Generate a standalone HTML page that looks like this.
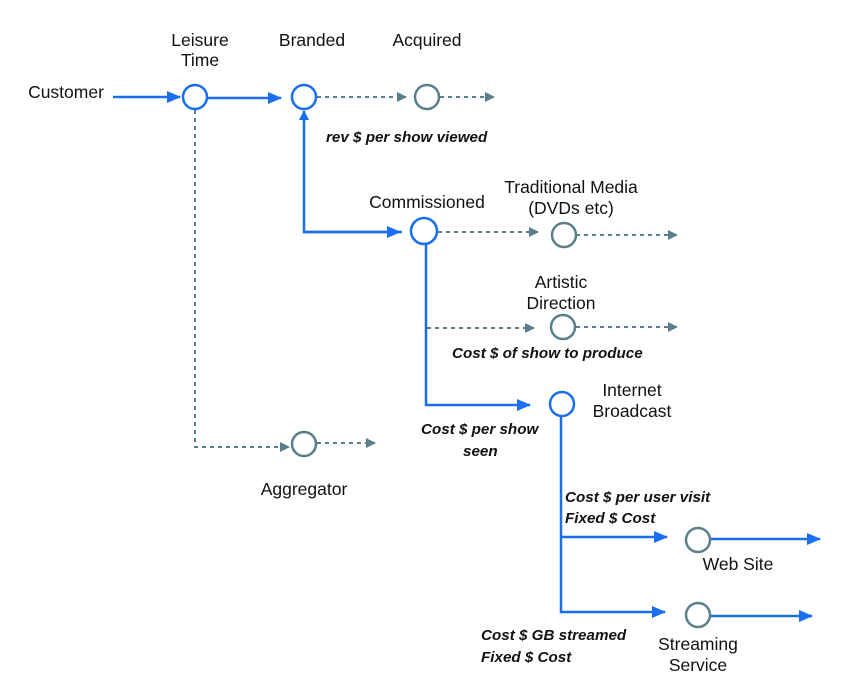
<!DOCTYPE html>
<html><head><meta charset="utf-8"><style>
html,body{margin:0;padding:0;background:#fff;}
svg{display:block;}
text{font-family:"Liberation Sans",sans-serif;font-size:17.5px;fill:#111;}
.i{font-style:italic;font-weight:bold;font-size:15.2px;}
</style></head><body>
<svg width="843" height="695" viewBox="0 0 843 695" xmlns="http://www.w3.org/2000/svg">
<defs>
<marker id="b" markerWidth="10" markerHeight="10" refX="9" refY="5" orient="auto" markerUnits="userSpaceOnUse"><path d="M0,0 L10,5 L0,10 z" fill="#1a6ff0"/></marker>
<marker id="b2" markerWidth="14" markerHeight="12" refX="13" refY="6" orient="auto" markerUnits="userSpaceOnUse"><path d="M0,0 L14,6 L0,12 z" fill="#1a6ff0"/></marker>
<marker id="g" markerWidth="10" markerHeight="10" refX="9" refY="5" orient="auto" markerUnits="userSpaceOnUse"><path d="M0,0 L10,5 L0,10 z" fill="#5a7f8a"/></marker>
</defs>
<g fill="none" stroke-width="2.5">
<g stroke="#1a6ff0">
<line x1="113" y1="97" x2="180" y2="97" marker-end="url(#b2)"/>
<line x1="207" y1="98" x2="281" y2="98" marker-end="url(#b2)"/>
<polyline points="402,232 304,232 304,111" marker-end="url(#b)"/>
<line x1="304" y1="232" x2="400" y2="232" marker-end="url(#b2)"/>
<polyline points="426,243 426,405 530,405" marker-end="url(#b2)"/>
<polyline points="561,416 561,612 665,612" marker-end="url(#b2)"/>
<line x1="561" y1="537" x2="667" y2="537" marker-end="url(#b2)"/>
<line x1="710" y1="539" x2="820" y2="539" marker-end="url(#b2)"/>
<line x1="710" y1="616" x2="812" y2="616" marker-end="url(#b2)"/>
</g>
<g stroke="#5a7f8a" stroke-width="2" stroke-dasharray="4,4">
<line x1="317" y1="97" x2="406" y2="97" marker-end="url(#g)"/>
<line x1="440" y1="97" x2="494" y2="97" marker-end="url(#g)"/>
<polyline points="195,110 195,447 289,447" marker-end="url(#g)"/>
<line x1="317" y1="443" x2="375" y2="443" marker-end="url(#g)"/>
<line x1="438" y1="232" x2="538" y2="232" marker-end="url(#g)"/>
<line x1="576" y1="235" x2="677" y2="235" marker-end="url(#g)"/>
<line x1="427" y1="328" x2="534" y2="328" marker-end="url(#g)"/>
<line x1="576" y1="327" x2="677" y2="327" marker-end="url(#g)"/>
</g>
<g fill="#fff">
<circle cx="195" cy="97" r="12" stroke="#1a6ff0"/>
<circle cx="304" cy="97" r="12" stroke="#1a6ff0"/>
<circle cx="427" cy="97" r="12" stroke="#5a7f8a"/>
<circle cx="424" cy="231" r="13" stroke="#1a6ff0"/>
<circle cx="564" cy="235" r="12" stroke="#5a7f8a"/>
<circle cx="563" cy="327" r="12" stroke="#5a7f8a"/>
<circle cx="562" cy="404" r="12" stroke="#1a6ff0"/>
<circle cx="304" cy="444" r="12" stroke="#5a7f8a"/>
<circle cx="698" cy="540" r="12" stroke="#5a7f8a"/>
<circle cx="698" cy="615" r="12" stroke="#5a7f8a"/>
</g>
</g>
<g text-anchor="middle">
<text x="66" y="98">Customer</text>
<text x="200" y="46">Leisure</text>
<text x="200" y="66">Time</text>
<text x="312" y="46">Branded</text>
<text x="427" y="46">Acquired</text>
<text x="427" y="208">Commissioned</text>
<text x="571" y="193">Traditional Media</text>
<text x="571" y="214">(DVDs etc)</text>
<text x="561" y="288">Artistic</text>
<text x="561" y="309">Direction</text>
<text x="632" y="396">Internet</text>
<text x="632" y="417">Broadcast</text>
<text x="304" y="495">Aggregator</text>
<text x="738" y="570">Web Site</text>
<text x="698" y="650">Streaming</text>
<text x="698" y="671">Service</text>
</g>
<text class="i" x="326" y="142">rev $ per show viewed</text>
<text class="i" x="452" y="358">Cost $ of show to produce</text>
<text class="i" x="421" y="434">Cost $ per show</text>
<text class="i" x="463" y="456">seen</text>
<text class="i" x="565" y="502">Cost $ per user visit</text>
<text class="i" x="565" y="523">Fixed $ Cost</text>
<text class="i" x="481" y="640">Cost $ GB streamed</text>
<text class="i" x="481" y="662">Fixed $ Cost</text>
</svg>
</body></html>
